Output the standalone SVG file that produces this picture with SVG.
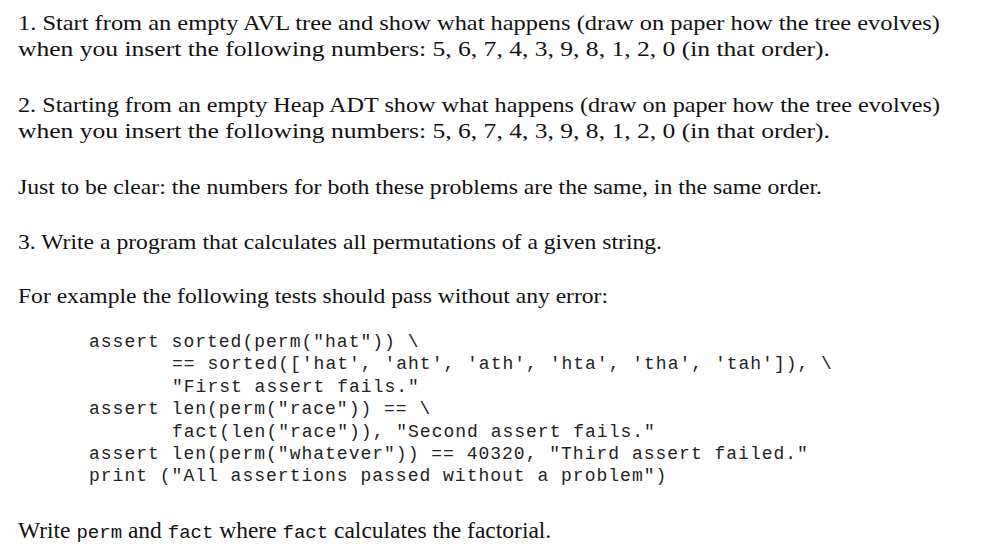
<svg xmlns="http://www.w3.org/2000/svg" width="992" height="558" viewBox="0 0 992 558">
<style>
.t{font-family:"Liberation Serif",serif;font-size:21.5px;fill:#111}
.c{font-family:"Liberation Mono",monospace;font-size:18px;letter-spacing:1px;fill:#222;white-space:pre}
.m{font-family:"Liberation Mono",monospace;font-size:19px}
</style>
<rect width="992" height="558" fill="#fff"/>
<g id="text">
<text class="t" x="18" y="30" textLength="922" lengthAdjust="spacingAndGlyphs">1. Start from an empty AVL tree and show what happens (draw on paper how the tree evolves)</text>
<text class="t" x="18" y="56" textLength="812" lengthAdjust="spacingAndGlyphs">when you insert the following numbers:  5,  6,  7,  4,  3,  9,  8,  1,  2,  0 (in that order).</text>
<text class="t" x="18" y="112" textLength="922" lengthAdjust="spacingAndGlyphs">2. Starting from an empty Heap ADT show what happens (draw on paper how the tree evolves)</text>
<text class="t" x="18" y="138" textLength="812" lengthAdjust="spacingAndGlyphs">when you insert the following numbers:  5,  6,  7,  4,  3,  9,  8,  1,  2,  0 (in that order).</text>
<text class="t" x="18" y="194" textLength="804" lengthAdjust="spacingAndGlyphs">Just to be clear: the numbers for both these problems are the same, in the same order.</text>
<text class="t" x="18" y="249" textLength="644" lengthAdjust="spacingAndGlyphs">3. Write a program that calculates all permutations of a given string.</text>
<text class="t" x="18" y="303" textLength="590" lengthAdjust="spacingAndGlyphs">For example the following tests should pass without any error:</text>
<text class="c" x="89" y="347" xml:space="preserve">assert sorted(perm("hat")) \</text>
<text class="c" x="172" y="369" xml:space="preserve">== sorted(['hat', 'aht', 'ath', 'hta', 'tha', 'tah']), \</text>
<text class="c" x="172" y="392" xml:space="preserve">"First assert fails."</text>
<text class="c" x="89" y="414" xml:space="preserve">assert len(perm("race")) == \</text>
<text class="c" x="172" y="437" xml:space="preserve">fact(len("race")), "Second assert fails."</text>
<text class="c" x="89" y="459" xml:space="preserve">assert len(perm("whatever")) == 40320, "Third assert failed."</text>
<text class="c" x="89" y="481" xml:space="preserve">print ("All assertions passed without a problem")</text>
<text class="t" x="18" y="538" style="font-size:23.5px" xml:space="preserve">Write <tspan class="m">perm</tspan> and <tspan class="m">fact</tspan> where <tspan class="m">fact</tspan> calculates the factorial.</text>
</g>
</svg>
